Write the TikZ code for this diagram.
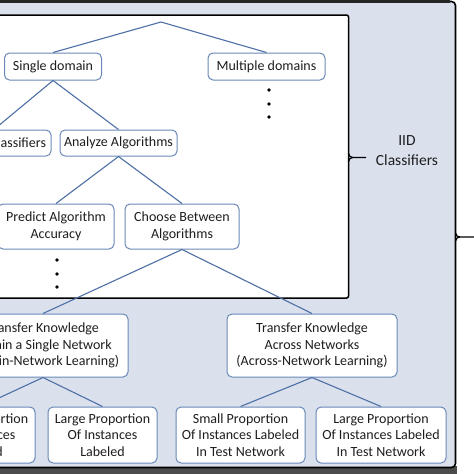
\documentclass[tikz,border=0pt]{standalone}
\usepackage{fontspec}
\setmainfont{Carlito}
\begin{document}
\begin{tikzpicture}[x=1pt,y=-1pt,
  box/.style={draw=boxc, fill=white, line width=1pt, rounded corners=5pt, align=center,
    text=txtc, inner sep=2pt, font=\fontsize{14}{16.7}\selectfont},
  conn/.style={draw=linec, line width=1.1pt},
  dotm/.style={fill=black, circle, inner sep=0pt, minimum size=3.6pt},
  lbl/.style={text=txtc, align=center, font=\fontsize{15.5}{20}\selectfont}]
\definecolor{boxc}{HTML}{6A88B8}
\definecolor{linec}{HTML}{4E70A6}
\definecolor{txtc}{HTML}{1E1E1E}
\definecolor{bgblue}{HTML}{DAE1ED}
\useasboundingbox (0,0) rectangle (474,474);
% outer blue region
\fill[gray!60!black] (-10,466) rectangle (456.5,480);
\draw[line width=1.6pt, fill=bgblue, rounded corners=4pt] (-10,1.5) -- (455.5,1.5) -- (455.5,467.5) -- (-10,467.5);
\fill[black!85] (-10,0) rectangle (450,2.5);
% white box
\draw[line width=1.5pt, fill=white, rounded corners=2pt] (-10,15) -- (348.5,15) -- (348.5,298) -- (-10,298);
% brace tips
\draw[line width=1.2pt] (348.5,153.5) .. controls (349.5,156.5) .. (353,157.5) -- (366,157.5);
\draw[line width=1.2pt] (348.5,161.5) .. controls (349.5,158.5) .. (353,157.5);
\draw[line width=1.2pt] (455.5,233) .. controls (456.5,236) .. (460,237) -- (476,237);
\draw[line width=1.2pt] (455.5,241) .. controls (456.5,238) .. (460,237);
\node[lbl] (iid) at (407,150.5) {IID\\Classifiers};
% nodes
\coordinate (root) at (161,22);
\node[box, minimum width=97pt, minimum height=27pt] (single) at (53,66.5) {Single domain};
\node[box, minimum width=117pt, minimum height=27pt] (multiple) at (266.5,66.5) {Multiple domains};
\node[box, minimum height=26pt, text width=104pt, align=right, inner xsep=5pt] (classif) at (-6,143) {Classifiers};
\node[box, minimum width=117pt, minimum height=26pt] (analyze) at (118.5,143) {Analyze Algorithms};
\node[box, minimum width=116pt, minimum height=45pt] (predict) at (56,226.5) {Predict Algorithm\\Accuracy};
\node[box, minimum width=114pt, minimum height=45pt] (choose) at (182,226.5) {Choose Between\\Algorithms};
\node[box, minimum width=170pt, minimum height=63pt] (within) at (43,345.5) {Transfer Knowledge\\Within a Single Network\\(Within-Network Learning)};
\node[box, minimum width=170pt, minimum height=63pt] (across) at (312,345.5) {Transfer Knowledge\\Across Networks\\(Across-Network Learning)};
\node[box, minimum width=109pt, minimum height=56pt] (small1) at (-19.5,435) {Small Proportion\\Of Instances\\Labeled};
\node[box, minimum width=109pt, minimum height=56pt] (large1) at (102.5,435) {Large Proportion\\Of Instances\\Labeled};
\node[box, minimum width=129pt, minimum height=56pt] (small2) at (240.5,435) {Small Proportion\\Of Instances Labeled\\In Test Network};
\node[box, minimum width=130pt, minimum height=56pt] (large2) at (381,435) {Large Proportion\\Of Instances Labeled\\In Test Network};
% connectors
\draw[conn] (single.north) -- (root) -- (multiple.north);
\draw[conn] (classif.north) -- (single.south) -- (analyze.north);
\draw[conn] (predict.north) -- (analyze.south) -- (choose.north);
\draw[conn] (within.north) -- (choose.south) -- (across.north);
\draw[conn] (small1.north) -- (within.south) -- (large1.north);
\draw[conn] (small2.north) -- (across.south) -- (large2.north);
% dots
\node[dotm] (d1) at (269,90) {};
\node[dotm] (d2) at (269,104) {};
\node[dotm] (d3) at (269,117) {};
\node[dotm] (d4) at (57,260) {};
\node[dotm] (d5) at (57,274) {};
\node[dotm] (d6) at (57,287) {};
\end{tikzpicture}
\end{document}
